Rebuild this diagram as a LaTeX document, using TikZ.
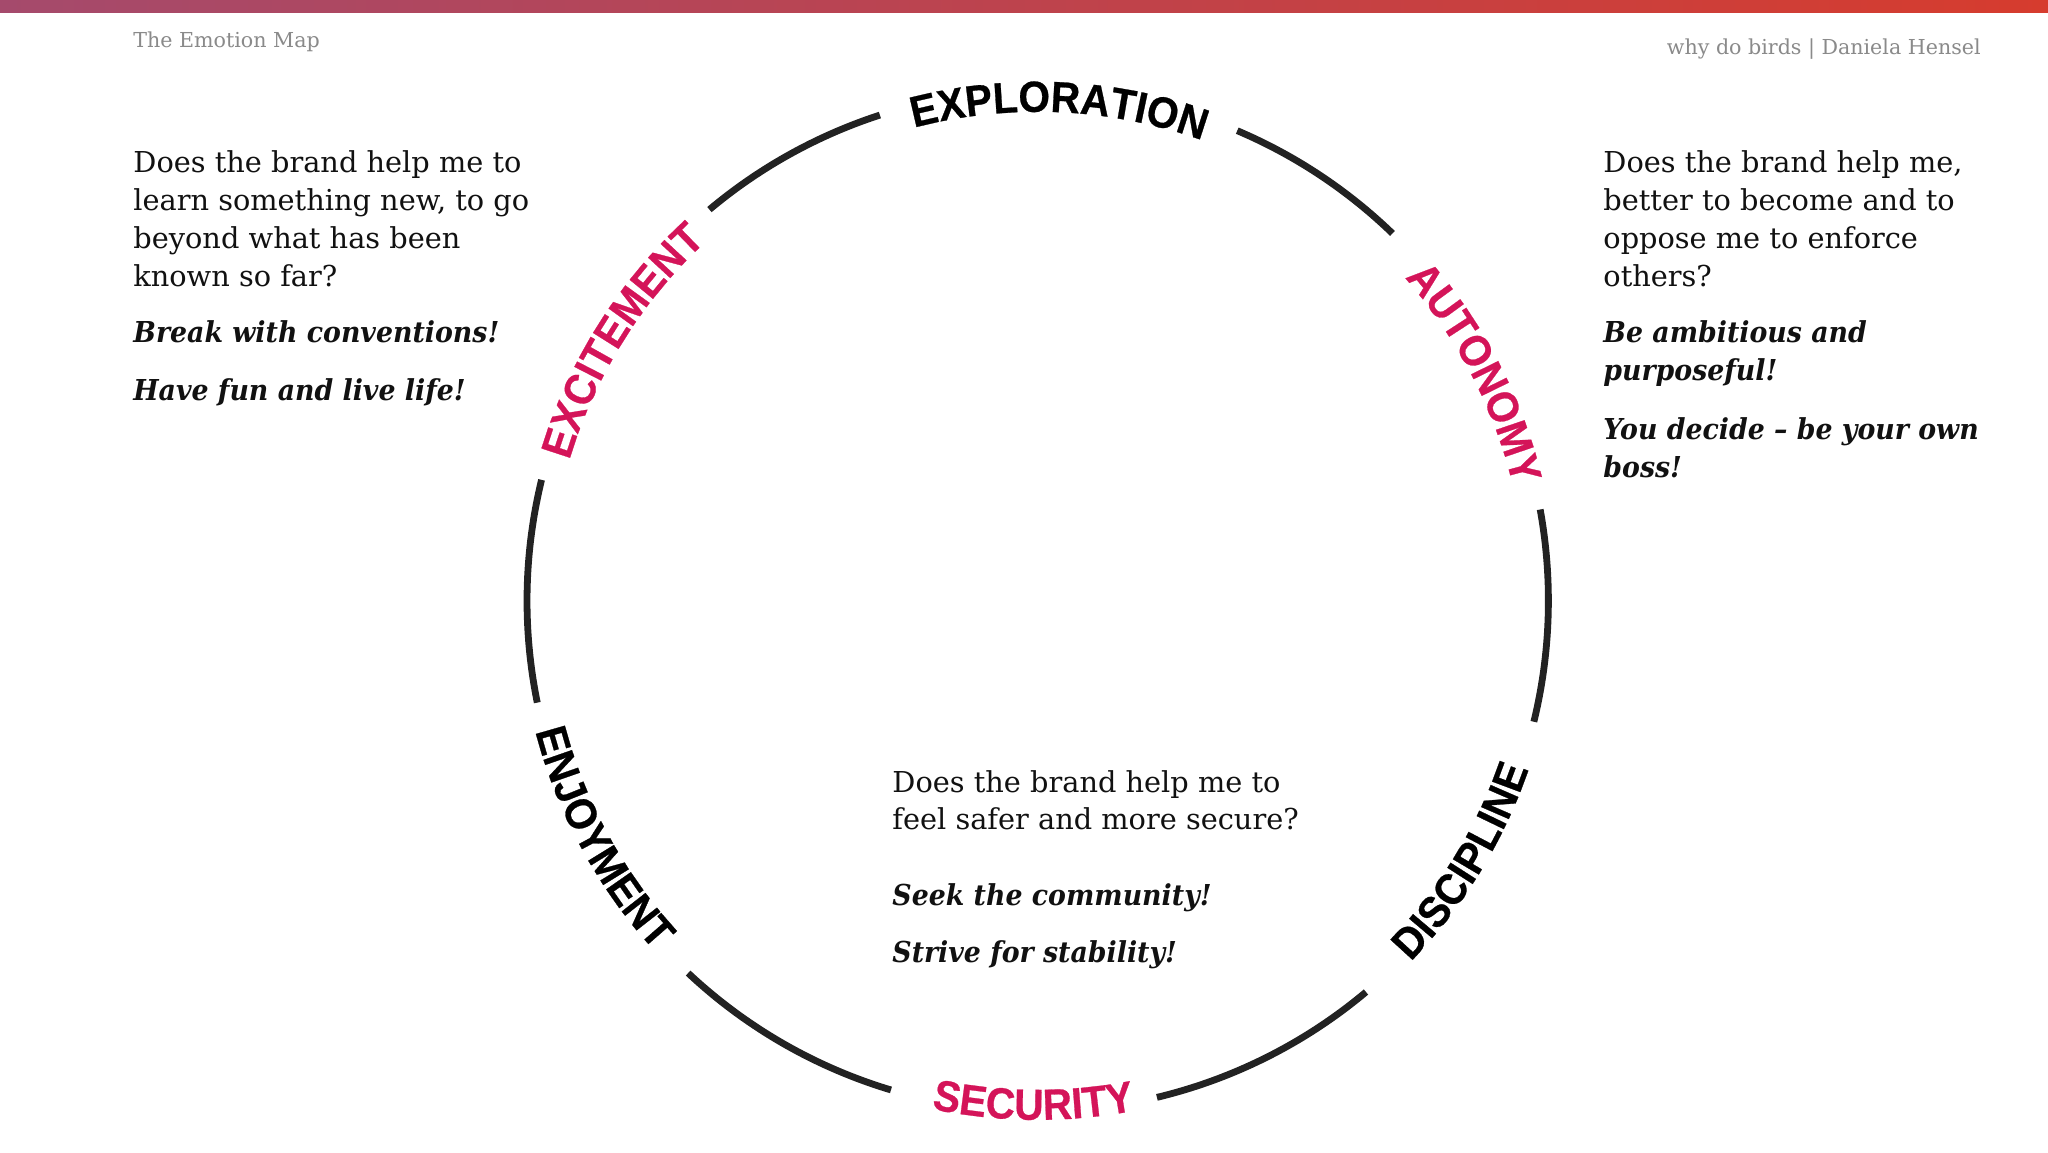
\documentclass[tikz,border=0pt]{standalone}
\usepackage{fontspec}
\setmainfont{DejaVu Serif}
\newfontfamily\bifont{DejaVu Serif}[FakeStretch=0.93]
\newfontfamily\lblfont{Liberation Sans Bold}[FakeBold=0.6,FakeStretch=0.93]
\usetikzlibrary{decorations.text}
\definecolor{ringcol}{HTML}{222222}
\definecolor{pinkcol}{HTML}{D41459}
\definecolor{txtcol}{HTML}{111111}
\definecolor{graycol}{HTML}{8A8A8A}
\definecolor{barL}{HTML}{A54A6C}
\definecolor{barM}{HTML}{C83D50}
\definecolor{barR}{HTML}{D63C2E}
\newcommand\lblB{\lblfont\fontsize{21.8pt}{24pt}\selectfont\color{black}}
\newcommand\lblP{\lblfont\fontsize{21.8pt}{24pt}\selectfont\color{pinkcol}}
\newcommand\bodysize{\fontsize{14.4pt}{18.85pt}\selectfont}
\begin{document}
\begin{tikzpicture}[x=0.5pt,y=0.5pt,
  ring/.style={draw=ringcol,line width=3.4pt},
  body/.style={anchor=base west,inner sep=0pt,text=txtcol,font=\bodysize},
  bolditem/.style={body,font=\bifont\bodysize\bfseries\itshape},
  header/.style={inner sep=0pt,text=graycol,font=\fontsize{10.3pt}{12pt}\selectfont}]
\useasboundingbox (0,0) rectangle (2048,1152);
\fill[white] (0,0) rectangle (2048,1152);
\shade[left color=barL,middle color=barM,right color=barR] (0,1139) rectangle (2048,1152);
\node[header,anchor=base west] (title) at (133,1104) {The Emotion Map};
\node[header,anchor=base east] (author) at (1981,1097) {why do birds | Daniela Hensel};
\coordinate (c) at (1037.7,551.2);
% ring arcs
\draw[ring] (c) ++(108:255.35pt) arc[start angle=108,end angle=130,radius=255.35pt];
\draw[ring] (c) ++(46:255.35pt) arc[start angle=46,end angle=67,radius=255.35pt];
\draw[ring] (c) ++(-13.7:255.35pt) arc[start angle=-13.7,end angle=10.3,radius=255.35pt];
\draw[ring] (c) ++(-76.5:255.35pt) arc[start angle=-76.5,end angle=-50,radius=255.35pt];
\draw[ring] (c) ++(226.8:255.35pt) arc[start angle=226.8,end angle=253.3,radius=255.35pt];
\draw[ring] (c) ++(166.3:255.35pt) arc[start angle=166.3,end angle=191.5,radius=255.35pt];
% labels, upper half (clockwise)
\path[decorate,decoration={text along path,text align=center,text={|\lblB|EXPLORATION}}]
  (c) ++(117.5:244.5pt) arc[start angle=117.5,end angle=57.5,radius=244.5pt];
\path[decorate,decoration={text along path,text align=center,text={|\lblP|EXCITEMENT}}]
  (c) ++(178:244.5pt) arc[start angle=178,end angle=118,radius=244.5pt];
\path[decorate,decoration={text along path,text align=center,text={|\lblP|AUTONOMY}}]
  (c) ++(57.5:244.5pt) arc[start angle=57.5,end angle=-2.5,radius=244.5pt];
% labels, lower half (counter-clockwise)
\path[decorate,decoration={text along path,text align=center,text={|\lblB|DISCIPLINE}}]
  (c) ++(-61.5:259.5pt) arc[start angle=-61.5,end angle=-1.5,radius=259.5pt];
\path[decorate,decoration={text along path,text align=center,text={|\lblP|SECURITY}}]
  (c) ++(-120.5:259.5pt) arc[start angle=-120.5,end angle=-60.5,radius=259.5pt];
\path[decorate,decoration={text along path,text align=center,text={|\lblB|ENJOYMENT}}]
  (c) ++(178.5:259.5pt) arc[start angle=178.5,end angle=238.5,radius=259.5pt];
% left block
\node[body] (q1) at (133,979) {\begin{tabular}[t]{@{}l@{}}Does the brand help me to\\learn something new, to go\\beyond what has been\\known so far?\end{tabular}};
\node[bolditem] (b1) at (133,809) {Break with conventions!};
\node[bolditem] (b2) at (133,751) {Have fun and live life!};
% right block
\node[body] (q2) at (1603,979) {\begin{tabular}[t]{@{}l@{}}Does the brand help me,\\better to become and to\\oppose me to enforce\\others?\end{tabular}};
\node[bolditem] (b3) at (1603,809) {\begin{tabular}[t]{@{}l@{}}Be ambitious and\\purposeful!\end{tabular}};
\node[bolditem] (b4) at (1603,712) {\begin{tabular}[t]{@{}l@{}}You decide – be your own\\boss!\end{tabular}};
% bottom block
\node[body] (q3) at (892,360) {\begin{tabular}[t]{@{}l@{}}Does the brand help me to\\feel safer and more secure?\end{tabular}};
\node[bolditem] (b5) at (892,247) {Seek the community!};
\node[bolditem] (b6) at (892,190) {Strive for stability!};
\end{tikzpicture}
\end{document}
